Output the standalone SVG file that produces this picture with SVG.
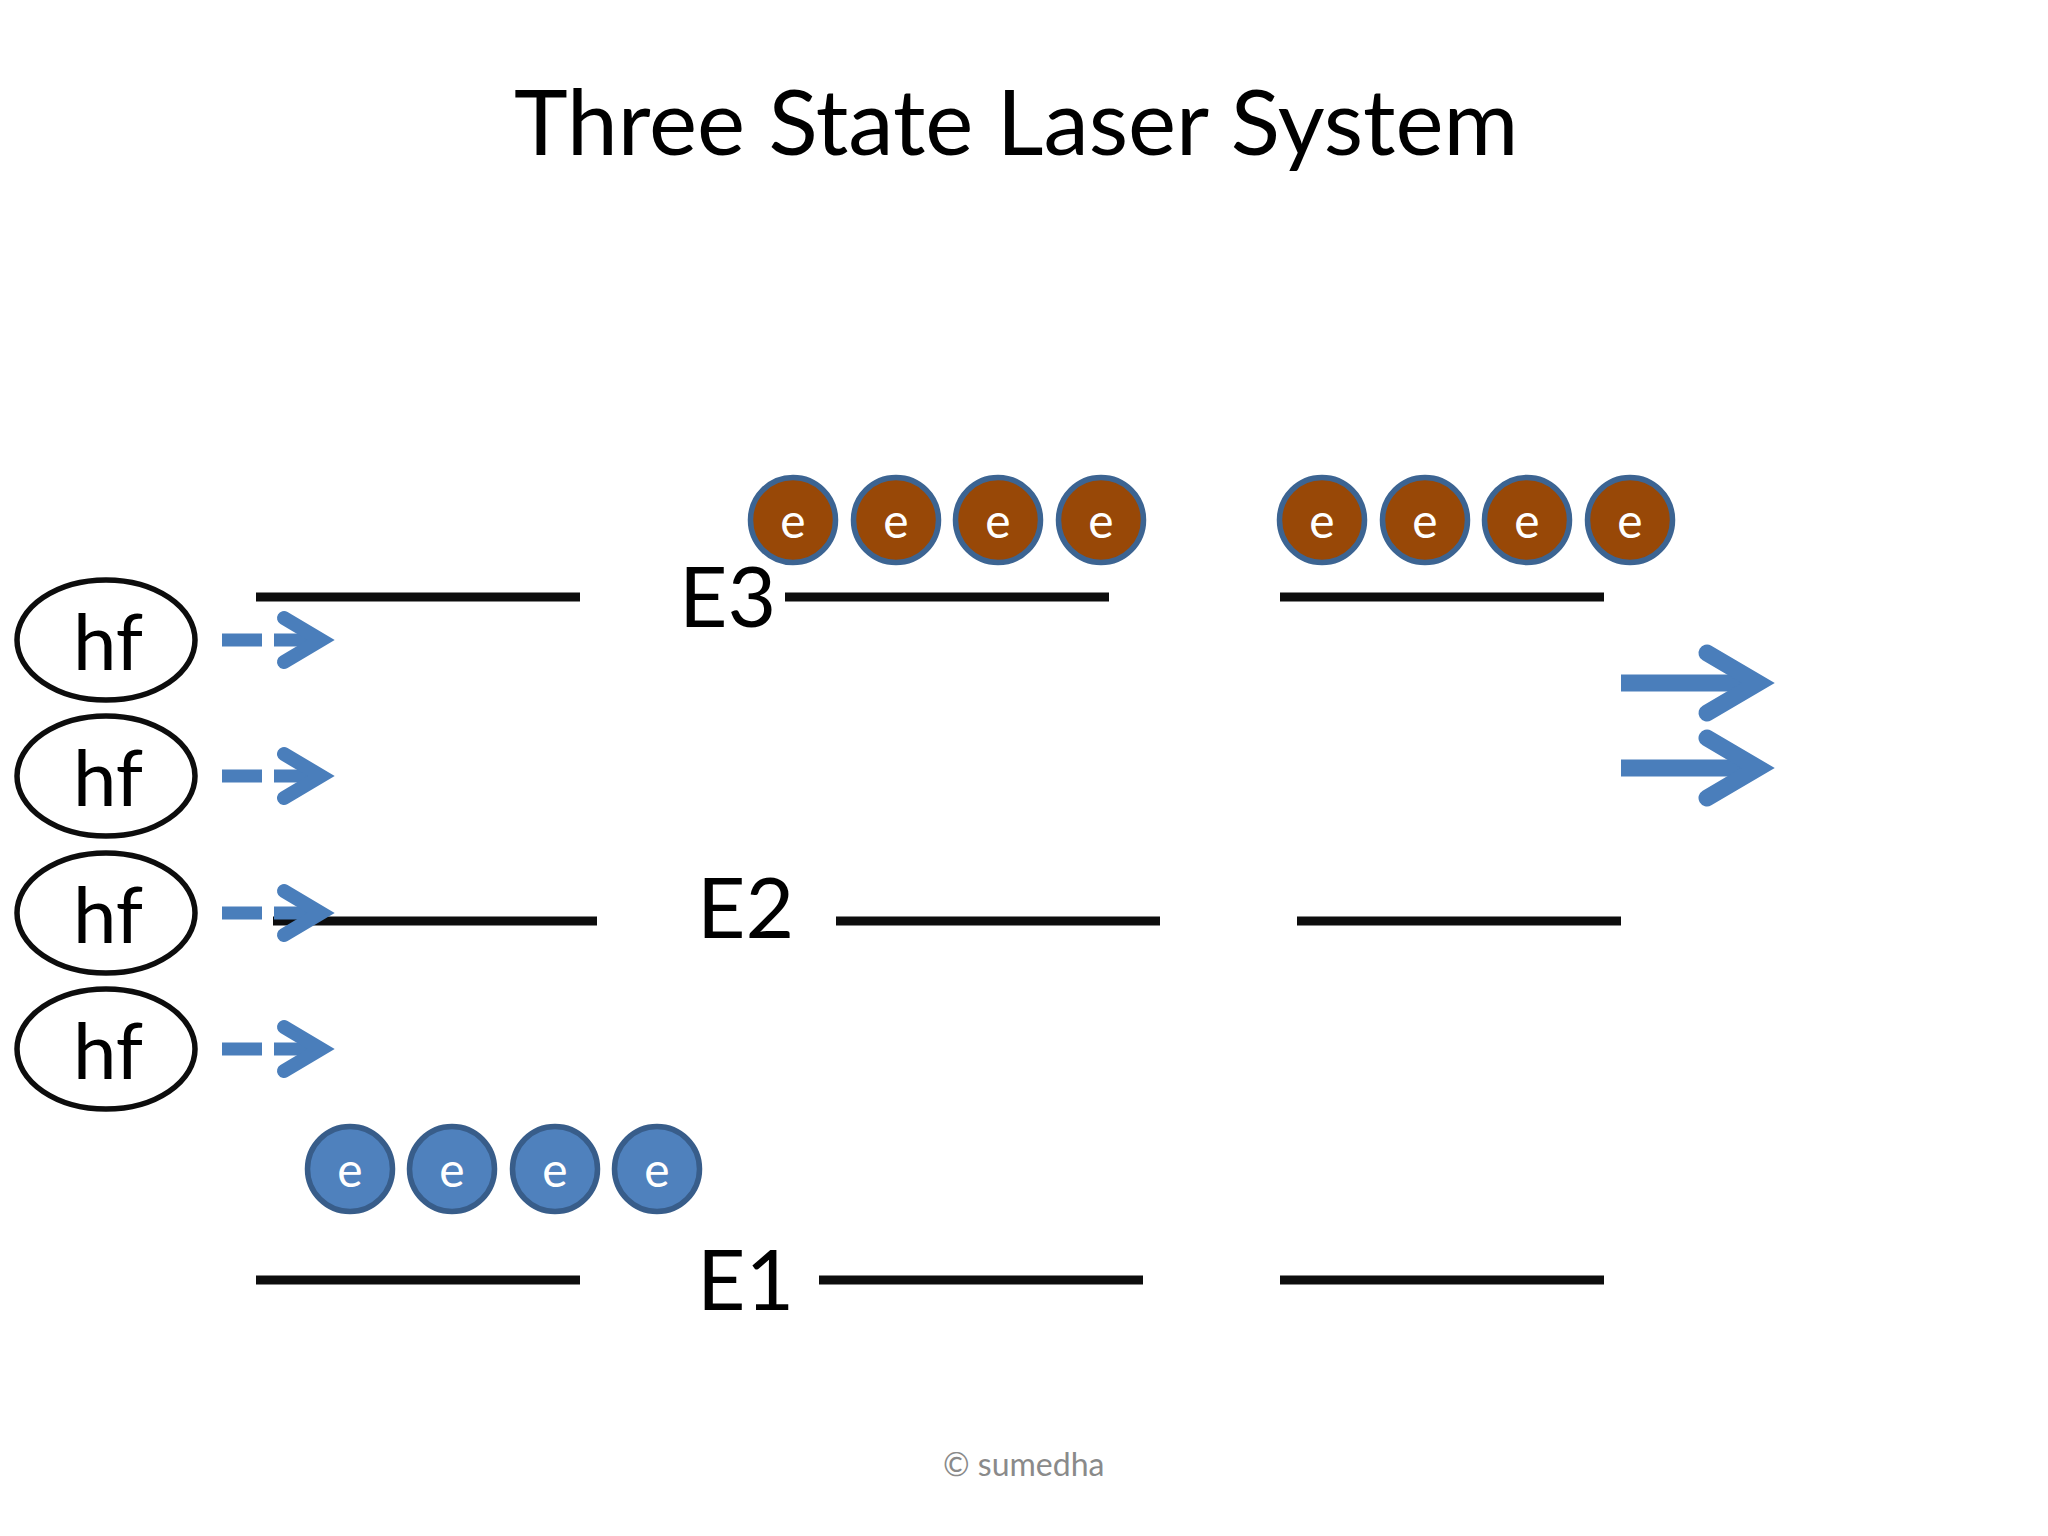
<svg xmlns="http://www.w3.org/2000/svg" width="2048" height="1536" viewBox="0 0 2048 1536">
<style>
text{font-family:Lato,"Open Sans","Liberation Sans",sans-serif;fill:#000}
.title{font-size:91px}
.lbl{font-size:84px}
.hf{font-size:78px;text-anchor:middle}
.e{font-size:48px;text-anchor:middle;fill:#fff}
.oval{fill:#fff;stroke:#0d0d0d;stroke-width:5.5}
.lvl{stroke:#0d0d0d;stroke-width:9;fill:none}
.ph{stroke:#4a7ebb;stroke-width:13;fill:none}
.phh{stroke:#4a7ebb;stroke-width:14;fill:none;stroke-linecap:round;stroke-linejoin:miter}
.big{stroke:#4a7ebb;stroke-width:17;fill:none}
.bigh{stroke:#4a7ebb;stroke-width:17;fill:none;stroke-linecap:round;stroke-linejoin:miter}
.brown{fill:#984807;stroke:#3c6492;stroke-width:5.5}
.blue{fill:#4f81bd;stroke:#385d8a;stroke-width:5.5}
.copy{font-size:32px;fill:#8a8a8a}
</style>
<defs>
<g id="photonArrow">
<path class="ph" d="M222 0H262M274 0H316"/>
<path class="phh" d="M284 -22L321 0L284 22"/>
</g>
<g id="bigArrow">
<path class="big" d="M1621 0H1750"/>
<path class="bigh" d="M1707 -30L1758 0L1707 30"/>
</g>
</defs>
<rect width="2048" height="1536" fill="#fff"/>
<text id="title" class="title" x="514" y="155">Three State Laser System</text>
<g id="levels">
<path class="lvl" d="M256 597H580M785 597H1109M1280 597H1604"/>
<path class="lvl" d="M273 921H597M836 921H1160M1297 921H1621"/>
<path class="lvl" d="M256 1280H580M819 1280H1143M1280 1280H1604"/>
</g>
<g id="connectors">
<use href="#photonArrow" y="640"/>
<use href="#photonArrow" y="776"/>
<use href="#photonArrow" y="913"/>
<use href="#photonArrow" y="1049"/>
<use href="#bigArrow" y="683"/>
<use href="#bigArrow" y="768"/>
</g>
<g id="label-E3"><text class="lbl" x="679" y="627">E3</text></g>
<g id="label-E2"><text class="lbl" x="697" y="938">E2</text></g>
<g id="label-E1"><text class="lbl" x="697" y="1310">E1</text></g>
<g id="hf1"><ellipse class="oval" cx="106" cy="640" rx="89" ry="60"/><text class="hf" x="108" y="670">hf</text></g>
<g id="hf2"><ellipse class="oval" cx="106" cy="776" rx="89" ry="60"/><text class="hf" x="108" y="806">hf</text></g>
<g id="hf3"><ellipse class="oval" cx="106" cy="913" rx="89" ry="60"/><text class="hf" x="108" y="943">hf</text></g>
<g id="hf4"><ellipse class="oval" cx="106" cy="1049" rx="89" ry="60"/><text class="hf" x="108" y="1079">hf</text></g>
<g id="e3a1"><circle class="brown" cx="793" cy="520" r="42.5"/><text class="e" x="793" y="538">e</text></g>
<g id="e3a2"><circle class="brown" cx="896" cy="520" r="42.5"/><text class="e" x="896" y="538">e</text></g>
<g id="e3a3"><circle class="brown" cx="998" cy="520" r="42.5"/><text class="e" x="998" y="538">e</text></g>
<g id="e3a4"><circle class="brown" cx="1101" cy="520" r="42.5"/><text class="e" x="1101" y="538">e</text></g>
<g id="e3b1"><circle class="brown" cx="1322" cy="520" r="42.5"/><text class="e" x="1322" y="538">e</text></g>
<g id="e3b2"><circle class="brown" cx="1425" cy="520" r="42.5"/><text class="e" x="1425" y="538">e</text></g>
<g id="e3b3"><circle class="brown" cx="1527" cy="520" r="42.5"/><text class="e" x="1527" y="538">e</text></g>
<g id="e3b4"><circle class="brown" cx="1630" cy="520" r="42.5"/><text class="e" x="1630" y="538">e</text></g>
<g id="e1a1"><circle class="blue" cx="350" cy="1169" r="42.5"/><text class="e" x="350" y="1187">e</text></g>
<g id="e1a2"><circle class="blue" cx="452" cy="1169" r="42.5"/><text class="e" x="452" y="1187">e</text></g>
<g id="e1a3"><circle class="blue" cx="555" cy="1169" r="42.5"/><text class="e" x="555" y="1187">e</text></g>
<g id="e1a4"><circle class="blue" cx="657" cy="1169" r="42.5"/><text class="e" x="657" y="1187">e</text></g>
<text id="copyright" class="copy" x="943" y="1476">© sumedha</text>
</svg>
